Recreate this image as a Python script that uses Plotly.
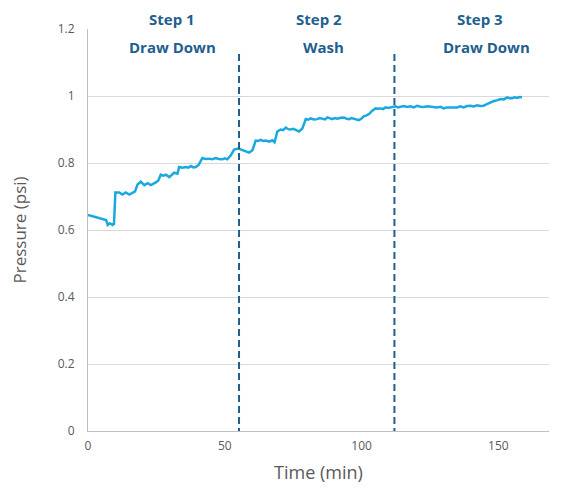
import plotly.graph_objects as go

time_min = [0, 2, 4, 6.6, 7.2, 8, 9, 9.5, 10, 11.4, 12.6, 13.8, 15.1, 16.3, 17.2, 18.1, 19.3, 20.6,
            21.8, 23, 24, 24.8, 25.7, 26.6, 27.5, 28.5, 29.7, 30.6, 31.5, 32.7, 33.3, 34.5, 35.8,
            36.7, 37.6, 38.5, 39.4, 40.5, 41.8, 43, 44.2, 45.4, 46.6, 47.8, 49.1, 50, 50.9, 52.2,
            53.4, 55, 56.5, 57.7, 58.9, 60.1, 61.3, 62.2, 63.1, 64, 64.9, 66.2, 67.4, 68.2, 69.2,
            70.4, 71.3, 72.3, 73.2, 74.1, 75, 75.9, 77.1, 78.3, 79.6, 80.5, 81.4, 82.6, 83.8, 84.7,
            85.7, 86.6, 87.5, 88.4, 89.3, 90.2, 91.2, 92.4, 93.6, 94.5, 95.4, 96.3, 97.3, 98.2, 99,
            100, 100.8, 101.8, 102.7, 103.9, 105.1, 106, 106.9, 107.8, 108.8, 109.7, 110.6, 111.5,
            112.4, 113.3, 114.2, 115.4, 116.6, 117.9, 119.1, 120.3, 121.5, 122.7, 124, 125.2,
            126.4, 127.6, 128.8, 130, 131.2, 132.5, 133.7, 134.9, 136.1, 137.3, 138.5, 139.8, 141,
            142.2, 143.4, 144.6, 145.8, 147, 148.3, 149.5, 150.7, 152, 153.2, 154.1, 155, 155.9,
            156.8, 157.7, 158.6]
pressure_psi = [0.645, 0.640, 0.635, 0.630, 0.615, 0.620, 0.615, 0.618, 0.712, 0.712, 0.706, 0.712,
                0.706, 0.712, 0.715, 0.736, 0.744, 0.734, 0.740, 0.734, 0.738, 0.742, 0.748, 0.765,
                0.762, 0.765, 0.758, 0.764, 0.771, 0.768, 0.788, 0.786, 0.788, 0.786, 0.791, 0.787,
                0.788, 0.795, 0.815, 0.812, 0.813, 0.811, 0.815, 0.812, 0.811, 0.814, 0.811, 0.823,
                0.840, 0.843, 0.838, 0.835, 0.831, 0.838, 0.867, 0.866, 0.869, 0.866, 0.867, 0.864,
                0.868, 0.862, 0.894, 0.900, 0.898, 0.906, 0.901, 0.900, 0.902, 0.899, 0.894, 0.902,
                0.931, 0.929, 0.933, 0.930, 0.931, 0.934, 0.932, 0.930, 0.936, 0.933, 0.931, 0.934,
                0.932, 0.935, 0.936, 0.932, 0.931, 0.934, 0.932, 0.929, 0.928, 0.933, 0.939, 0.942,
                0.946, 0.956, 0.963, 0.962, 0.963, 0.961, 0.966, 0.964, 0.966, 0.968, 0.969, 0.966,
                0.968, 0.970, 0.967, 0.969, 0.966, 0.971, 0.968, 0.967, 0.969, 0.968, 0.965, 0.966,
                0.968, 0.963, 0.966, 0.966, 0.968, 0.966, 0.969, 0.966, 0.970, 0.971, 0.969, 0.972,
                0.970, 0.971, 0.976, 0.981, 0.985, 0.987, 0.991, 0.990, 0.996, 0.993, 0.993, 0.996,
                0.994, 0.997, 0.996]

step_boundaries = [55.2, 112.0]
step_titles = ["Step 1", "Step 2", "Step 3"]
step_names = ["Draw Down", "Wash", "Draw Down"]
step_title_x = [30.7, 84.3, 143.4]
step_name_x = [30.8, 86.1, 145.8]

x_ticks = [0, 50, 100, 150]
y_ticks = [0, 0.2, 0.4, 0.6, 0.8, 1, 1.2]

dark_blue = "#1F5F8F"
gray = "#595959"

fig = go.Figure()
fig.add_trace(go.Scatter(x=time_min, y=pressure_psi, mode="lines",
                         line=dict(color="#19A9DF", width=2.5), showlegend=False))

for b in step_boundaries:
    fig.add_shape(type="line", xref="x", yref="y", x0=b, x1=b, y0=-0.012, y1=1.135,
                  line=dict(color=dark_blue, width=2, dash="7px,4px"))

for tx, t in zip(step_title_x, step_titles):
    fig.add_annotation(x=tx, y=1.024, xref="x", yref="paper", text="<b>%s</b>" % t,
                       showarrow=False, yanchor="middle",
                       font=dict(family="Open Sans", size=15, color=dark_blue))
for nx, n in zip(step_name_x, step_names):
    fig.add_annotation(x=nx, y=0.954, xref="x", yref="paper", text="<b>%s</b>" % n,
                       showarrow=False, yanchor="middle",
                       font=dict(family="Open Sans", size=15, color=dark_blue))

fig.update_layout(
    width=568, height=484,
    margin=dict(l=79, r=27, t=18, b=61),
    paper_bgcolor="white", plot_bgcolor="white",
    font=dict(family="Open Sans", color=gray),
    xaxis=dict(range=[0, 168.5], tickvals=x_ticks, showgrid=False, zeroline=False,
               showline=True, linecolor="#BFBFBF", linewidth=1, ticks="",
               tickfont=dict(size=12, color=gray), ticklabelstandoff=4,
               title=dict(text="Time (min)", font=dict(size=18, color=gray), standoff=12)),
    yaxis=dict(range=[0, 1.2], tickvals=y_ticks, showgrid=True, gridcolor="#D9D9D9",
               zeroline=False, showline=True, linecolor="#BFBFBF", linewidth=1, ticks="",
               tickfont=dict(size=12, color=gray), ticklabelstandoff=10,
               title=dict(text="Pressure (psi)", font=dict(size=17, color=gray), standoff=26)),
)

fig.write_html("out.html")
